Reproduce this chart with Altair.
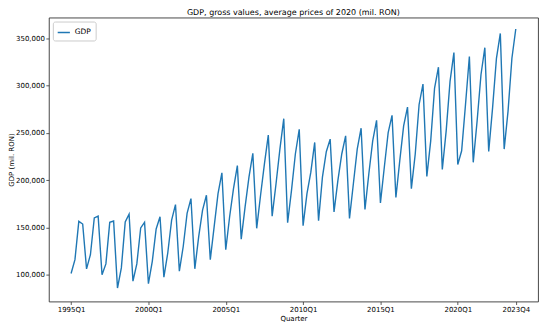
import altair as alt
import pandas as pd

years = list(range(1995, 2024))
quarters = [f"{y}Q{q}" for y in years for q in range(1, 5)]

gdp = [
    101400, 116000, 156500, 153600,   # 1995
    106300, 121200, 160000, 162000,   # 1996
    100000, 111500, 155400, 156800,   # 1997
    86000, 107300, 155700, 164000,    # 1998
    93300, 111500, 149500, 155400,    # 1999
    90600, 114200, 148400, 161300,    # 2000
    97500, 123000, 157800, 174200,    # 2001
    103800, 129900, 164900, 180500,   # 2002
    106300, 140400, 168300, 184000,   # 2003
    116000, 150800, 185700, 207700,   # 2004
    126500, 161300, 191000, 215400,   # 2005
    137600, 171800, 203200, 228300,   # 2006
    149100, 184000, 217100, 247500,   # 2007
    162000, 196200, 232800, 264900,   # 2008
    155000, 189200, 227600, 253700,   # 2009
    151900, 185800, 208400, 239800,   # 2010
    157100, 203100, 230000, 243300,   # 2011
    166500, 199700, 227600, 246800,   # 2012
    159600, 196200, 232800, 254800,   # 2013
    169000, 206700, 241500, 263200,   # 2014
    175900, 213600, 250200, 268400,   # 2015
    181600, 220600, 257200, 277100,   # 2016
    191000, 227600, 279900, 301500,   # 2017
    203900, 241500, 297300, 319300,   # 2018
    211200, 252000, 304300, 334700,   # 2019
    216400, 231000, 279900, 330500,   # 2020
    218800, 262500, 311300, 339900,   # 2021
    230300, 276300, 328700, 354900,   # 2022
    232800, 272900, 328700, 359600,   # 2023
]

x_ticks = ["1995Q1", "2000Q1", "2005Q1", "2010Q1", "2015Q1", "2020Q1", "2023Q4"]
y_ticks = [100000, 150000, 200000, 250000, 300000, 350000]

idx = list(range(len(quarters)))
tick_idx = [quarters.index(t) for t in x_ticks]
label_expr = "".join(
    f"datum.value == {i} ? '{t}' : " for i, t in zip(tick_idx, x_ticks)
) + "''"

df = pd.DataFrame({"idx": idx, "Quarter": quarters, "GDP": gdp,
                   "series": ["GDP"] * len(gdp)})

FONT = "DejaVu Sans"
n = len(quarters) - 1
margin = n * 0.05

chart = alt.Chart(df).mark_line(strokeWidth=1.4).encode(
    x=alt.X(
        "idx:Q",
        scale=alt.Scale(domain=[-margin, n + margin], nice=False, zero=False),
        axis=alt.Axis(values=tick_idx, labelExpr=label_expr, labelAngle=0,
                      title="Quarter", grid=False, labelFlush=False,
                      labelOverlap=False),
    ),
    y=alt.Y(
        "GDP:Q",
        scale=alt.Scale(domain=[71800, 371700], nice=False, zero=False),
        axis=alt.Axis(values=y_ticks, format=",d", title="GDP (mil. RON)",
                      grid=False, labelFlush=False, titlePadding=1),
    ),
    color=alt.Color(
        "series:N",
        scale=alt.Scale(range=["#1f77b4"]),
        legend=alt.Legend(
            title=None,
            orient="top-left",
            offset=4,
            padding=4,
            fillColor="white",
            strokeColor="#cccccc",
            cornerRadius=2,
            symbolType="stroke",
            symbolStrokeWidth=1.5,
            symbolSize=150,
            labelFont=FONT,
            labelFontSize=7.5,
            labelColor="black",
        ),
    ),
).properties(
    width=491,
    height=285,
    autosize="none",
    background="white",
    padding={"left": 41, "top": 9, "right": 4, "bottom": 25},
    title=alt.TitleParams(
        "GDP, gross values, average prices of 2020 (mil. RON)",
        font=FONT,
        fontSize=8,
        fontWeight="normal",
        color="black",
        anchor="middle",
        offset=1,
    ),
).configure_view(
    stroke="#333333",
    strokeWidth=0.9,
).configure_axis(
    domain=False,
    grid=False,
    ticks=True,
    tickColor="#333333",
    tickSize=3,
    tickWidth=0.8,
    labelFont=FONT,
    labelFontSize=7,
    labelColor="black",
    labelPadding=1.5,
    titleFont=FONT,
    titleFontSize=7,
    titleFontWeight="normal",
    titleColor="black",
    titlePadding=1.5,
)

chart.save("out.html", embed_options={"renderer": "svg", "actions": False})
